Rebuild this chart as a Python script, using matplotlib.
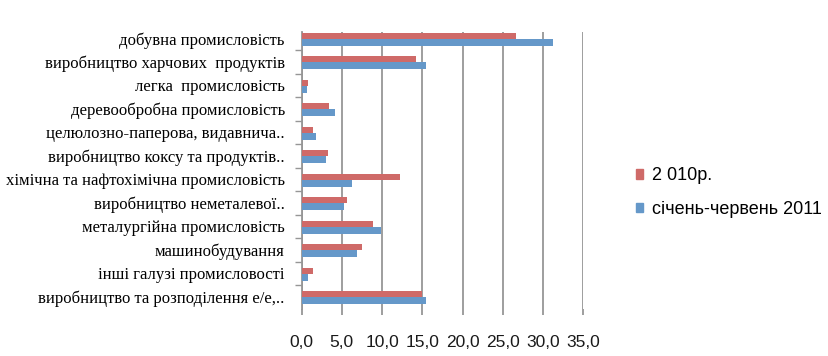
import numpy as np
import matplotlib
matplotlib.use('Agg')
import matplotlib.pyplot as plt
from matplotlib.ticker import FixedLocator, FuncFormatter
from matplotlib.patches import Patch

# categories, top to bottom as in the chart
categories = ['добувна промисловість',
              'виробництво харчових  продуктів',
              'легка  промисловість',
              'деревообробна промисловість',
              'целюлозно-паперова, видавнича..',
              'виробництво коксу та продуктів..',
              'хімічна та нафтохімічна промисловість',
              'виробництво неметалевої..',
              'металургійна промисловість',
              'машинобудування',
              'інші галузі промисловості',
              'виробництво та розподілення е/е,..']

# 2010 year
vals_2010 = [26.6, 14.2, 0.8, 3.4, 1.4, 3.3, 12.2, 5.6, 8.9, 7.5, 1.4, 15.0]
# January-June 2011
vals_2011 = [31.2, 15.5, 0.7, 4.2, 1.8, 3.0, 6.3, 5.3, 9.9, 6.9, 0.8, 15.5]

labels = ['2 010р.', 'січень-червень 2011']
xticks = [0, 5, 10, 15, 20, 25, 30, 35]

red = '#CF6A68'
blue = '#6598C9'
grey = '#969696'

fig = plt.figure(figsize=(8.29, 3.56), dpi=100)
ax = fig.add_axes([0.3637, 0.1334, 0.3399, 0.7767])

y = np.arange(len(categories))
ax.barh(y - 0.11, vals_2010, height=0.24, color=red, zorder=3)
ax.barh(y + 0.165, vals_2011, height=0.31, color=blue, zorder=3)

ax.set_xlim(0, 35)
ax.set_ylim(11.5, -0.27)

ax.set_xticks(xticks)
ax.xaxis.set_major_formatter(FuncFormatter(lambda v, p: f'{v:.1f}'.replace('.', ',')))
ax.grid(axis='x', color=grey, linewidth=1.3, zorder=0)
ax.tick_params(axis='x', length=4, width=1.3, color=grey, pad=15,
               labelsize=12.5, labelcolor='#1a1a1a')
for t in ax.get_xticklabels():
    t.set_family('Liberation Sans')

ax.set_yticks(y)
ax.set_yticklabels(categories, family='Liberation Serif', fontsize=12)
ax.tick_params(axis='y', which='major', length=0, pad=12)
ax.yaxis.set_minor_locator(FixedLocator(np.arange(0.5, 11.5, 1.0)))
ax.tick_params(axis='y', which='minor', length=5, width=1, color=grey)

for s in ['top', 'right', 'bottom']:
    ax.spines[s].set_visible(False)
ax.spines['left'].set_color(grey)
ax.spines['left'].set_linewidth(1.3)

handles = [Patch(color=red), Patch(color=blue)]
fig.legend(handles, labels, loc='upper left', bbox_to_anchor=(0.758, 0.55),
           frameon=False, prop={'family': 'Liberation Sans', 'size': 13},
           handlelength=0.4, handleheight=0.4, handletextpad=0.5,
           labelspacing=0.9, borderaxespad=0)

fig.savefig('out.png', dpi=100)
